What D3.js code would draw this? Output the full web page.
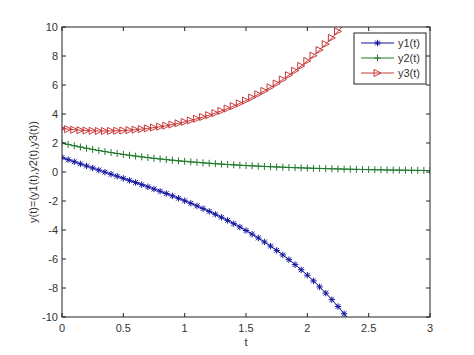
<!DOCTYPE html>
<html><head><meta charset="utf-8">
<script src="https://cdn.jsdelivr.net/npm/d3@7"></script>
<style>
html,body{margin:0;padding:0;background:#fff;}
text{font-family:"Liberation Sans",Arial,Helvetica,sans-serif;}
</style></head>
<body><svg id="c" width="474" height="355"></svg>
<script>
const t = d3.range(0, 61).map(i => +(i * 0.05).toFixed(2));
const y1 = [1.000,0.851,0.705,0.560,0.416,0.274,0.132,-0.010,-0.151,-0.293,-0.436,-0.579,-0.725,-0.871,-1.021,-1.172,-1.327,-1.485,-1.646,-1.812,-1.983,-2.158,-2.338,-2.525,-2.718,-2.917,-3.124,-3.339,-3.562,-3.794,-4.035,-4.287,-4.549,-4.823,-5.109,-5.407,-5.719,-6.045,-6.387,-6.744,-7.118,-7.510,-7.921,-8.352,-8.803,-9.277,-9.774,-10.295];
const y2 = [2.000,1.902,1.810,1.721,1.637,1.558,1.482,1.409,1.341,1.275,1.213,1.154,1.098,1.044,0.993,0.945,0.899,0.855,0.813,0.773,0.736,0.700,0.666,0.633,0.602,0.573,0.545,0.518,0.493,0.469,0.446,0.425,0.404,0.384,0.365,0.348,0.331,0.314,0.299,0.285,0.271,0.257,0.245,0.233,0.222,0.211,0.201,0.191,0.181,0.173,0.164,0.156,0.149,0.141,0.134,0.128,0.122,0.116,0.110,0.105,0.100];
const y3 = [3.000,2.954,2.915,2.883,2.859,2.842,2.831,2.828,2.832,2.844,2.862,2.887,2.920,2.960,3.007,3.062,3.124,3.194,3.273,3.359,3.454,3.558,3.670,3.791,3.922,4.063,4.214,4.376,4.548,4.732,4.928,5.136,5.357,5.591,5.839,6.102,6.380,6.674,6.985,7.313,7.660,8.025,8.411,8.818,9.247,9.699,10.175];
const xTicks = [0,0.5,1,1.5,2,2.5,3];
const yTicks = [-10,-8,-6,-4,-2,0,2,4,6,8,10];
const seriesNames = ["y1(t)","y2(t)","y3(t)"];
const seriesColors = ["#1414a0","#237a2e","#c83a3a"];
const markers = ["star","plus","tri"];

const svg = d3.select("#c");
const L=62, R=430, T=27, B=317;
const x = d3.scaleLinear().domain([0,3]).range([L,R]);
const y = d3.scaleLinear().domain([-10,10]).range([B,T]);
const axisColor = "#222";
const tickColor = "#333";

svg.append("defs").append("clipPath").attr("id","clip")
  .append("rect").attr("x",L).attr("y",T).attr("width",R-L).attr("height",B-T);

const series = [y1,y2,y3].map((vals,i)=>({name:seriesNames[i],color:seriesColors[i],marker:markers[i],
  pts: vals.map((v,j)=>[t[j],v])}));

function drawMarker(g, type, color, cx, cy){
  if(type==="star"){
    const s=3.2;
    g.append("path").attr("d",`M${cx-s},${cy}L${cx+s},${cy}M${cx},${cy-s}L${cx},${cy+s}M${cx-s*0.75},${cy-s*0.75}L${cx+s*0.75},${cy+s*0.75}M${cx-s*0.75},${cy+s*0.75}L${cx+s*0.75},${cy-s*0.75}`)
      .attr("stroke",color).attr("stroke-width",1).attr("fill","none");
  } else if(type==="plus"){
    const s=3.5;
    g.append("path").attr("d",`M${cx-s},${cy}L${cx+s},${cy}M${cx},${cy-s}L${cx},${cy+s}`)
      .attr("stroke",color).attr("stroke-width",1).attr("fill","none");
  } else {
    const s=3.5;
    g.append("path").attr("d",`M${cx-s},${cy-s}L${cx+s},${cy}L${cx-s},${cy+s}Z`)
      .attr("stroke",color).attr("stroke-width",1).attr("fill","none");
  }
}

const line = d3.line().x(d=>x(d[0])).y(d=>y(d[1]));
const plotG = svg.append("g").attr("clip-path","url(#clip)");
series.forEach(s=>{
  plotG.append("path").datum(s.pts).attr("d",line).attr("fill","none").attr("stroke",s.color).attr("stroke-width",1);
  const mg = plotG.append("g");
  s.pts.filter(p=>p[1]>=-10 && p[1]<=10).forEach(p=>drawMarker(mg,s.marker,s.color,x(p[0]),y(p[1])));
});

// axes box
svg.append("rect").attr("x",L).attr("y",T).attr("width",R-L).attr("height",B-T)
  .attr("fill","none").attr("stroke",axisColor).attr("stroke-width",1);

const tl = 4;
const axG = svg.append("g").attr("stroke",axisColor).attr("stroke-width",1);
xTicks.forEach(v=>{
  axG.append("line").attr("x1",x(v)).attr("x2",x(v)).attr("y1",B).attr("y2",B-tl);
  axG.append("line").attr("x1",x(v)).attr("x2",x(v)).attr("y1",T).attr("y2",T+tl);
});
yTicks.forEach(v=>{
  axG.append("line").attr("x1",L).attr("x2",L+tl).attr("y1",y(v)).attr("y2",y(v));
  axG.append("line").attr("x1",R).attr("x2",R-tl).attr("y1",y(v)).attr("y2",y(v));
});
const fs = 11;
xTicks.forEach(v=>{
  svg.append("text").attr("x",x(v)).attr("y",B+15).attr("text-anchor","middle")
    .attr("font-size",fs).attr("fill",tickColor).text(v);
});
yTicks.forEach(v=>{
  svg.append("text").attr("x",L-4).attr("y",y(v)+4).attr("text-anchor","end")
    .attr("font-size",fs).attr("fill",tickColor).text(v);
});
svg.append("text").attr("x",(L+R)/2).attr("y",B+29).attr("text-anchor","middle")
  .attr("font-size",fs).attr("fill",tickColor).text("t");
svg.append("text").attr("transform",`translate(37,${(T+B)/2}) rotate(-90)`).attr("text-anchor","middle")
  .attr("font-size",fs).attr("fill",tickColor).text("y(t)=(y1(t),y2(t),y3(t))");

// legend
const lg = svg.append("g");
lg.append("rect").attr("x",354).attr("y",33).attr("width",72).attr("height",51)
  .attr("fill","#fff").attr("stroke",axisColor).attr("stroke-width",1);
series.forEach((s,i)=>{
  const ly = 43 + i*15;
  lg.append("line").attr("x1",361).attr("x2",394).attr("y1",ly).attr("y2",ly).attr("stroke",s.color).attr("stroke-width",1);
  drawMarker(lg,s.marker,s.color,377.5,ly);
  lg.append("text").attr("x",398).attr("y",ly+4).attr("font-size",fs).attr("fill",tickColor).text(s.name);
});
</script></body></html>
